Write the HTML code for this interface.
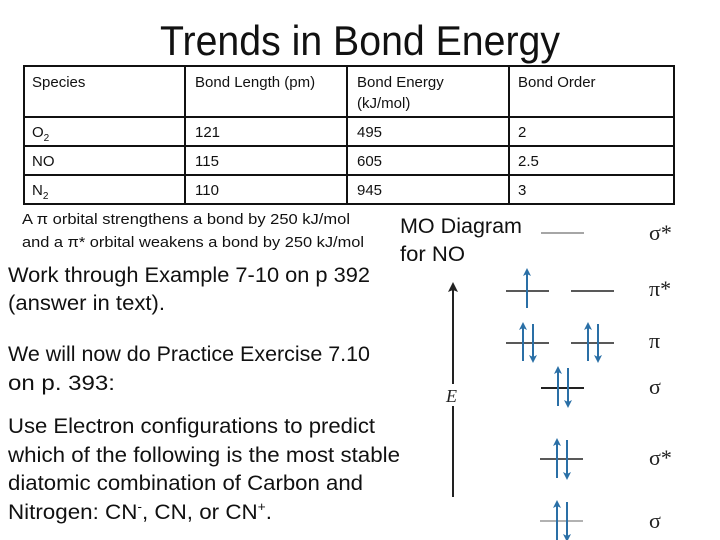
<!DOCTYPE html>
<html><head><meta charset="utf-8"><style>
html,body{margin:0;padding:0;background:#fff;}
svg{display:block;font-family:"Liberation Sans",sans-serif;}
.t{font-size:15px;fill:#111;}
.b{font-size:21px;fill:#111;}
.g{font-family:"Liberation Serif",serif;font-size:22px;fill:#222;}
</style></head><body>
<svg width="720" height="540" viewBox="0 0 720 540">
<defs><marker id="ah" markerWidth="8" markerHeight="8" refX="4" refY="4" orient="auto" markerUnits="userSpaceOnUse"><path d="M0,0 L8,4 L0,8 L2,4 z" fill="#2a6fa6"/></marker>
<marker id="ahk" markerWidth="10" markerHeight="10" refX="5" refY="5" orient="auto" markerUnits="userSpaceOnUse"><path d="M0,0 L10,5 L0,10 L2,5 z" fill="#222"/></marker></defs>
<text x="160" y="55" font-size="42" textLength="400" lengthAdjust="spacingAndGlyphs" fill="#111">Trends in Bond Energy</text>
<g stroke="#111" stroke-width="2" fill="none">
<rect x="24" y="66" width="650" height="138"/>
<line x1="185" y1="66" x2="185" y2="204"/><line x1="347" y1="66" x2="347" y2="204"/><line x1="509" y1="66" x2="509" y2="204"/>
<line x1="24" y1="117" x2="674" y2="117"/><line x1="24" y1="146" x2="674" y2="146"/><line x1="24" y1="175" x2="674" y2="175"/>
</g>
<g class="t">
<text x="32" y="87">Species</text><text x="195" y="87">Bond Length (pm)</text><text x="357" y="87">Bond Energy</text><text x="357" y="108">(kJ/mol)</text><text x="518" y="87">Bond Order</text>
<text x="32" y="137">O<tspan font-size="10" dy="4">2</tspan></text><text x="195" y="137">121</text><text x="357" y="137">495</text><text x="518" y="137">2</text>
<text x="32" y="166">NO</text><text x="195" y="166">115</text><text x="357" y="166">605</text><text x="518" y="166">2.5</text>
<text x="32" y="195">N<tspan font-size="10" dy="4">2</tspan></text><text x="195" y="195">110</text><text x="357" y="195">945</text><text x="518" y="195">3</text>
</g>
<text class="t" x="22" y="224" textLength="328" lengthAdjust="spacingAndGlyphs">A π orbital strengthens a bond by 250 kJ/mol</text>
<text class="t" x="22" y="247" textLength="342" lengthAdjust="spacingAndGlyphs">and a π* orbital weakens a bond by 250 kJ/mol</text>
<g class="b">
<text x="8" y="282" textLength="362" lengthAdjust="spacingAndGlyphs">Work through Example 7-10 on p 392</text>
<text x="8" y="310" textLength="157" lengthAdjust="spacingAndGlyphs">(answer in text).</text>
<text x="8" y="361" textLength="362" lengthAdjust="spacingAndGlyphs">We will now do Practice Exercise 7.10</text>
<text x="8" y="390" textLength="107" lengthAdjust="spacingAndGlyphs">on p. 393:</text>
<text x="8" y="433" textLength="367" lengthAdjust="spacingAndGlyphs">Use Electron configurations to predict</text>
<text x="8" y="462" textLength="392" lengthAdjust="spacingAndGlyphs">which of the following is the most stable</text>
<text x="8" y="490" textLength="355" lengthAdjust="spacingAndGlyphs">diatomic combination of Carbon and</text>
<text x="8" y="519" textLength="264" lengthAdjust="spacingAndGlyphs">Nitrogen: CN<tspan font-size="13" dy="-8">-</tspan><tspan dy="8">, CN, or CN</tspan><tspan font-size="13" dy="-8">+</tspan><tspan dy="8">.</tspan></text>
<text x="400" y="233" textLength="122" lengthAdjust="spacingAndGlyphs">MO Diagram</text>
<text x="400" y="261" textLength="65" lengthAdjust="spacingAndGlyphs">for NO</text>
</g>
<g>
<line x1="453" y1="497" x2="453" y2="287" stroke="#222" stroke-width="2" marker-end="url(#ahk)"/>
<rect x="444" y="384" width="18" height="22" fill="#fff"/>
<text x="446" y="402" font-family="Liberation Serif,serif" font-style="italic" font-size="18" fill="#222">E</text>
<g stroke="#222" stroke-width="1.5">
<line x1="541" y1="233" x2="584" y2="233" stroke="#888"/>
<line x1="506" y1="291" x2="549" y2="291"/><line x1="571" y1="291" x2="614" y2="291"/>
<line x1="506" y1="343" x2="549" y2="343"/><line x1="571" y1="343" x2="614" y2="343"/>
<line x1="541" y1="388" x2="584" y2="388" stroke-width="2"/>
<line x1="540" y1="459" x2="583" y2="459"/>
<line x1="540" y1="521" x2="583" y2="521" stroke="#999"/>
</g>
<g stroke="#2a6fa6" stroke-width="2">
<line x1="527" y1="308" x2="527" y2="272" marker-end="url(#ah)"/>
<line x1="523" y1="361" x2="523" y2="326" marker-end="url(#ah)"/><line x1="533" y1="324" x2="533" y2="359" marker-end="url(#ah)"/>
<line x1="588" y1="361" x2="588" y2="326" marker-end="url(#ah)"/><line x1="598" y1="324" x2="598" y2="359" marker-end="url(#ah)"/>
<line x1="558" y1="406" x2="558" y2="370" marker-end="url(#ah)"/><line x1="568" y1="368" x2="568" y2="404" marker-end="url(#ah)"/>
<line x1="557" y1="478" x2="557" y2="442" marker-end="url(#ah)"/><line x1="567" y1="440" x2="567" y2="476" marker-end="url(#ah)"/>
<line x1="557" y1="540" x2="557" y2="504" marker-end="url(#ah)"/><line x1="567" y1="502" x2="567" y2="538" marker-end="url(#ah)"/>
</g>
<text class="g" x="649" y="240">σ*</text>
<text class="g" x="649" y="296">π*</text>
<text class="g" x="649" y="348">π</text>
<text class="g" x="649" y="394">σ</text>
<text class="g" x="649" y="465">σ*</text>
<text class="g" x="649" y="528">σ</text>
</g>
</svg>
</body></html>
